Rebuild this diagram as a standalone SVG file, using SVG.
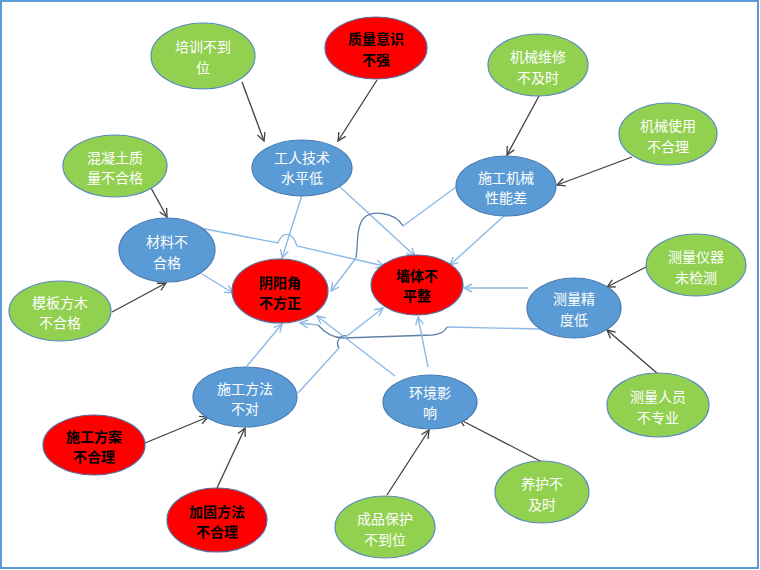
<svg xmlns="http://www.w3.org/2000/svg" width="760" height="570" viewBox="0 0 760 570">
<defs>
<style>
.g{fill:#92D050;stroke:#5a8ac0;stroke-width:1.2}
.b{fill:#5B9BD5;stroke:#4a7db3;stroke-width:1.2}
.r{fill:#FF0000;stroke:#5a6a9a;stroke-width:1.2}
.tw{font-family:"Noto Sans CJK SC","Noto Sans",sans-serif;font-size:14px;fill:#ffffff;text-anchor:middle;dominant-baseline:central}
.tb{font-family:"Noto Sans CJK SC","Noto Sans",sans-serif;font-size:14px;font-weight:bold;fill:#000000;text-anchor:middle;dominant-baseline:central}
.k{fill:none;stroke:#404040;stroke-width:1.3;marker-end:url(#ak)}
.l{fill:none;stroke:#8DB9E6;stroke-width:1.4}
.la{marker-end:url(#al)}
.d{fill:none;stroke:#5f82a8;stroke-width:1.3}
</style>
<marker id="ak" viewBox="0 0 10 10" refX="9" refY="5" markerWidth="10" markerHeight="10" markerUnits="userSpaceOnUse" orient="auto">
<path d="M1,1 L9,5 L1,9" fill="none" stroke="#404040" stroke-width="1.3"/>
</marker>
<marker id="al" viewBox="0 0 10 10" refX="9" refY="5" markerWidth="10" markerHeight="10" markerUnits="userSpaceOnUse" orient="auto">
<path d="M1,1 L9,5 L1,9" fill="none" stroke="#8DB9E6" stroke-width="1.4"/>
</marker>
</defs>
<rect x="1" y="1" width="757" height="567" fill="#ffffff" stroke="#5B9BD5" stroke-width="2"/>

<g id="connectors">
<line class="k" x1="242" y1="82" x2="264" y2="141"/>
<line class="k" x1="377" y1="80" x2="338" y2="141"/>
<line class="k" x1="539" y1="96" x2="507" y2="155"/>
<line class="k" x1="632" y1="157" x2="557" y2="185"/>
<line class="k" x1="151" y1="188" x2="167" y2="217"/>
<line class="k" x1="112" y1="312" x2="166" y2="283"/>
<line class="k" x1="646" y1="267" x2="607" y2="287"/>
<line class="k" x1="658" y1="374" x2="607" y2="330"/>
<line class="k" x1="145" y1="443" x2="208" y2="417"/>
<line class="k" x1="217" y1="488" x2="245" y2="428"/>
<line class="k" x1="387" y1="495" x2="429" y2="430"/>
<line class="k" x1="542" y1="462" x2="459" y2="419"/>

<line class="l la" x1="302" y1="195" x2="282" y2="258"/>
<line class="l la" x1="339" y1="186" x2="415" y2="256"/>
<path class="l la" d="M200,228 L278,243 C282,232 292,230 297,246 L384,266"/>
<line class="l la" x1="202" y1="274" x2="233" y2="293"/>
<path class="l" d="M456,187 L403,226"/>
<path class="d" d="M403,226 C395,212 372,210 364,218 C356,226 358,246 356,258"/>
<path class="l la" d="M356,258 L331,291"/>
<line class="l la" x1="505" y1="215" x2="450" y2="265"/>
<line class="l la" x1="528" y1="288" x2="464" y2="288"/>
<path class="l" d="M540,329 L447,327"/>
<path class="d" d="M447,327 C445,332 441,334 433,335 L343,338 C332,338 325,333 318,325"/>
<path class="l la" d="M318,325 L300,323"/>
<line class="l la" x1="247" y1="366" x2="282" y2="324"/>
<path class="l" d="M298,393 L339,348"/>
<path class="d" d="M339,348 C335,342 340,334 347,336"/>
<path class="l la" d="M347,336 L383,308"/>
<line class="l la" x1="428" y1="367" x2="418" y2="317"/>
<line class="l la" x1="395" y1="376" x2="317" y2="316"/>
</g>

<g id="n1"><ellipse class="g" cx="203" cy="56" rx="52" ry="33"/><text class="tw" x="203" y="46">培训不到</text><text class="tw" x="203" y="67">位</text></g>
<g id="n2"><ellipse class="r" cx="376" cy="48" rx="51" ry="31"/><text class="tb" x="376" y="38">质量意识</text><text class="tb" x="376" y="59">不强</text></g>
<g id="n3"><ellipse class="g" cx="538" cy="65" rx="50" ry="31"/><text class="tw" x="538" y="56">机械维修</text><text class="tw" x="538" y="77">不及时</text></g>
<g id="n4"><ellipse class="g" cx="668" cy="134" rx="49" ry="31"/><text class="tw" x="668" y="125">机械使用</text><text class="tw" x="668" y="146">不合理</text></g>
<g id="n5"><ellipse class="b" cx="506" cy="186" rx="50" ry="30"/><text class="tw" x="506" y="177">施工机械</text><text class="tw" x="506" y="197">性能差</text></g>
<g id="n6"><ellipse class="g" cx="115" cy="166" rx="52" ry="31"/><text class="tw" x="115" y="157">混凝土质</text><text class="tw" x="115" y="177">量不合格</text></g>
<g id="n7"><ellipse class="b" cx="167" cy="250" rx="48" ry="32"/><text class="tw" x="167" y="241">材料不</text><text class="tw" x="167" y="262">合格</text></g>
<g id="n8"><ellipse class="g" cx="60" cy="311" rx="51" ry="30"/><text class="tw" x="60" y="302">模板方木</text><text class="tw" x="60" y="322">不合格</text></g>
<g id="n9"><ellipse class="b" cx="302" cy="168" rx="50" ry="28"/><text class="tw" x="302" y="157">工人技术</text><text class="tw" x="302" y="177">水平低</text></g>
<g id="n10"><ellipse class="r" cx="280" cy="291" rx="48" ry="32"/><text class="tb" x="280" y="282">阴阳角</text><text class="tb" x="280" y="302">不方正</text></g>
<g id="n11"><ellipse class="r" cx="417" cy="285" rx="46" ry="30"/><text class="tb" x="417" y="275">墙体不</text><text class="tb" x="417" y="295">平整</text></g>
<g id="n12"><ellipse class="b" cx="574" cy="308" rx="47" ry="30"/><text class="tw" x="574" y="298">测量精</text><text class="tw" x="574" y="319">度低</text></g>
<g id="n13"><ellipse class="g" cx="696" cy="265" rx="50" ry="31"/><text class="tw" x="696" y="256">测量仪器</text><text class="tw" x="696" y="277">未检测</text></g>
<g id="n14"><ellipse class="g" cx="658" cy="405" rx="51" ry="32"/><text class="tw" x="658" y="396">测量人员</text><text class="tw" x="658" y="417">不专业</text></g>
<g id="n15"><ellipse class="b" cx="245" cy="397" rx="52" ry="30"/><text class="tw" x="245" y="388">施工方法</text><text class="tw" x="245" y="408">不对</text></g>
<g id="n16"><ellipse class="r" cx="94" cy="445" rx="51" ry="30"/><text class="tb" x="94" y="436">施工方案</text><text class="tb" x="94" y="456">不合理</text></g>
<g id="n17"><ellipse class="r" cx="217" cy="520" rx="50" ry="32"/><text class="tb" x="217" y="511">加固方法</text><text class="tb" x="217" y="531">不合理</text></g>
<g id="n18"><ellipse class="b" cx="430" cy="402" rx="47" ry="27"/><text class="tw" x="430" y="392">环境影</text><text class="tw" x="430" y="412">响</text></g>
<g id="n19"><ellipse class="g" cx="542" cy="492" rx="47" ry="31"/><text class="tw" x="542" y="483">养护不</text><text class="tw" x="542" y="504">及时</text></g>
<g id="n20"><ellipse class="g" cx="385" cy="527" rx="50" ry="31"/><text class="tw" x="385" y="518">成品保护</text><text class="tw" x="385" y="539">不到位</text></g>
</svg>
